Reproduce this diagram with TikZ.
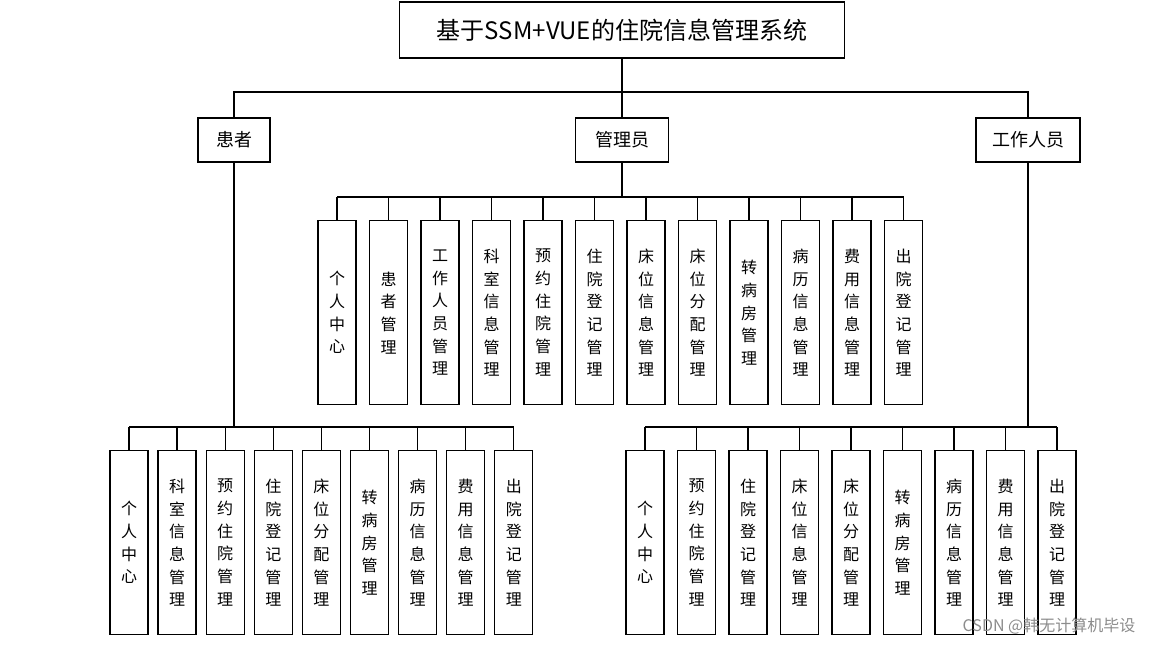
\documentclass[tikz,border=0pt]{standalone}
\usepackage{fontspec}
\setmainfont{Noto Sans CJK SC}
\begin{document}
\begin{tikzpicture}[x=0.75pt,y=-0.75pt,
  box/.style={draw,line width=1pt,fill=white,inner sep=0pt},
  leaf/.style={box,minimum width=28.5pt,minimum height=138pt,align=center,font=\fontsize{12}{17}\selectfont},
  mid/.style={box,minimum height=33pt,font=\fontsize{13.5}{16}\selectfont},
  trunk/.style={line width=1.6pt},
  br/.style={line width=1pt}]
\useasboundingbox (0,0) rectangle (1153,645);
\node[box,minimum width=334pt,minimum height=42pt,font=\fontsize{18}{20}\selectfont] (root) at (622,30) {基于SSM+VUE的住院信息管理系统};
\node[mid,minimum width=54pt] (p) at (234,140) {患者};
\node[mid,minimum width=70pt] (a) at (622,140) {管理员};
\node[mid,minimum width=78pt] (w) at (1028,140) {工作人员};
\coordinate (j) at (622,92);
\draw[trunk] (root.south) -- (j);
\draw[br] (p.north) |- (j) -| (w.north);
\draw[trunk] (j) -- (a.north);
% admin
\coordinate (ab) at (622,197);
\draw[trunk] (a.south) -- (ab);
\foreach \t [count=\i] in {个\\人\\中\\心,患\\者\\管\\理,工\\作\\人\\员\\管\\理,科\\室\\信\\息\\管\\理,预\\约\\住\\院\\管\\理,住\\院\\登\\记\\管\\理,床\\位\\信\\息\\管\\理,床\\位\\分\\配\\管\\理,转\\病\\房\\管\\理,病\\历\\信\\息\\管\\理,费\\用\\信\\息\\管\\理,出\\院\\登\\记\\管\\理}{
  \node[leaf,anchor=north] (a\i) at ({337+51.5*(\i-1)},220) {\t};
  \draw[br] (a\i.north) -- ++(0,-23) coordinate (at\i);
}
\draw[br] (at1) -- (at12);
% patient
\coordinate (pb) at (234,427);
\draw[trunk] (p.south) -- (pb);
\foreach \t [count=\i] in {个\\人\\中\\心,科\\室\\信\\息\\管\\理,预\\约\\住\\院\\管\\理,住\\院\\登\\记\\管\\理,床\\位\\分\\配\\管\\理,转\\病\\房\\管\\理,病\\历\\信\\息\\管\\理,费\\用\\信\\息\\管\\理,出\\院\\登\\记\\管\\理}{
  \node[leaf,anchor=north] (p\i) at ({129+48.1*(\i-1)},450) {\t};
  \draw[br] (p\i.north) -- ++(0,-23) coordinate (pt\i);
}
\draw[br] (pt1) -- (pt9);
\draw[trunk] (pt1) -- (pb);
% worker
\coordinate (wb) at (1028,427);
\draw[trunk] (w.south) -- (wb);
\foreach \t [count=\i] in {个\\人\\中\\心,预\\约\\住\\院\\管\\理,住\\院\\登\\记\\管\\理,床\\位\\信\\息\\管\\理,床\\位\\分\\配\\管\\理,转\\病\\房\\管\\理,病\\历\\信\\息\\管\\理,费\\用\\信\\息\\管\\理,出\\院\\登\\记\\管\\理}{
  \node[leaf,anchor=north] (w\i) at ({645+51.5*(\i-1)},450) {\t};
  \draw[br] (w\i.north) -- ++(0,-23) coordinate (wt\i);
}
\draw[br] (wt1) -- (wt9);
\draw[trunk] (wb) -- (wt9);
\node[text=black!45,font=\fontsize{12}{14}\selectfont,anchor=east] (wm) at (1140,626) {CSDN @韩无计算机毕设};
\end{tikzpicture}
\end{document}
